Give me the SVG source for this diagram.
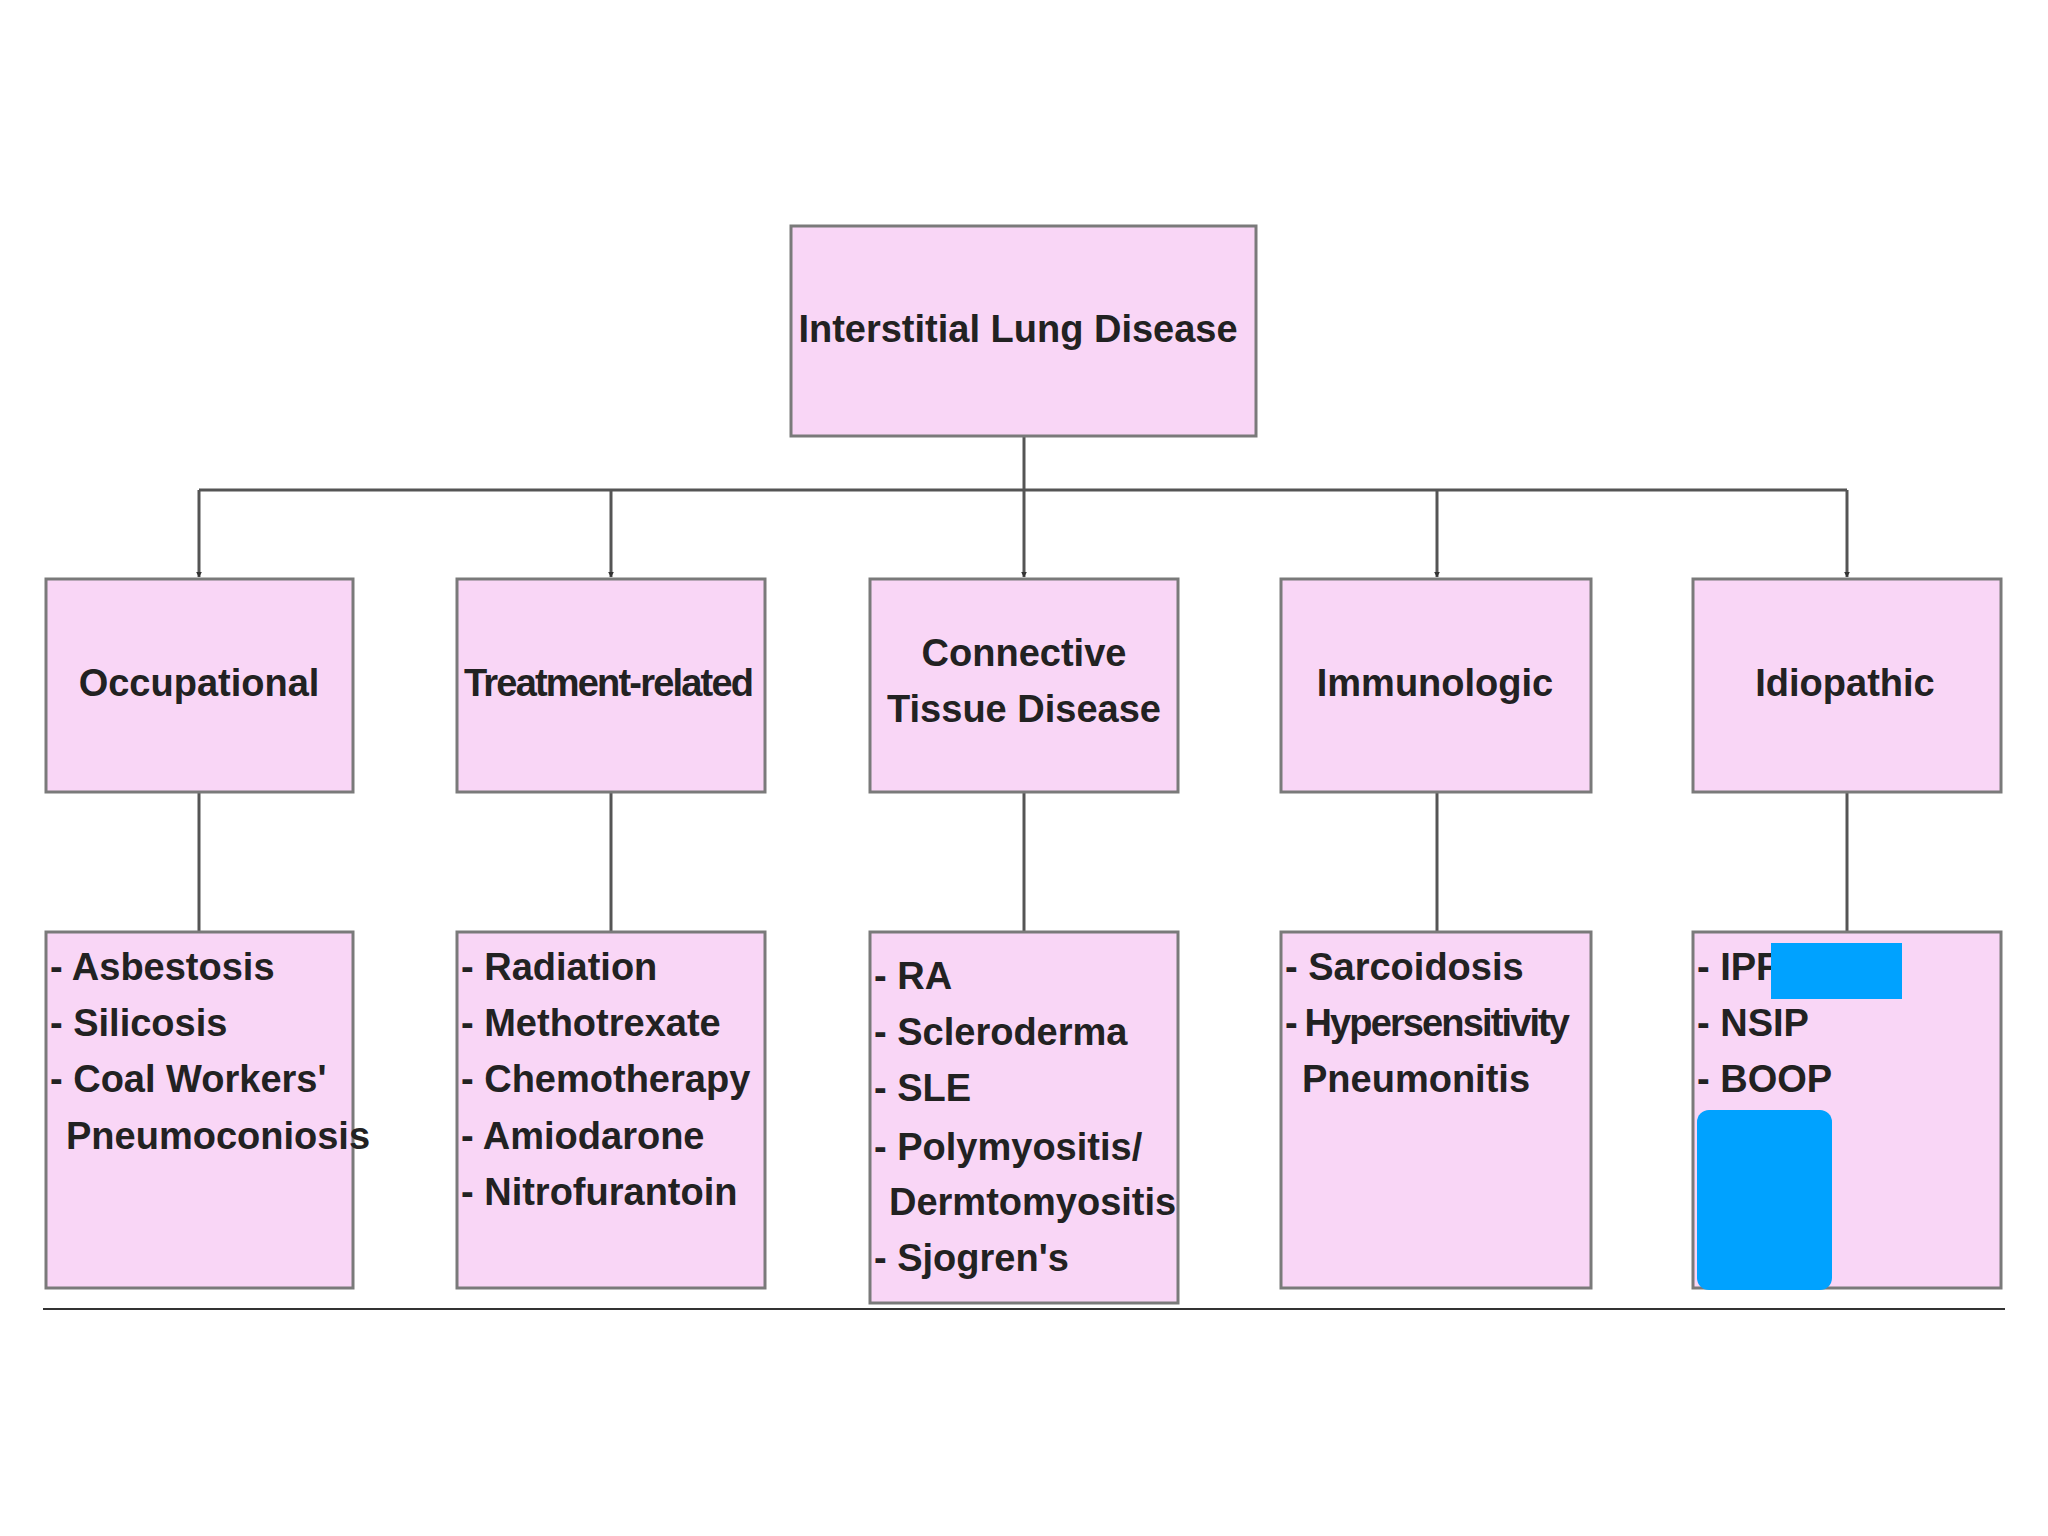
<svg xmlns="http://www.w3.org/2000/svg" width="2048" height="1536" viewBox="0 0 2048 1536">
<defs>
<marker id="ah" viewBox="0 0 10 10" refX="9" refY="5" markerWidth="6" markerHeight="8" orient="auto" markerUnits="userSpaceOnUse"><path d="M0,0 L10,5 L0,10 z" fill="#333"/></marker>
<style>
.box{fill:#f9d6f6;stroke:#7a7a7a;stroke-width:3}
.t{font-family:"Liberation Sans",Arial,sans-serif;font-weight:bold;font-size:38px;fill:#222}
.c{text-anchor:middle}
.ln{stroke:#555;stroke-width:3;fill:none}
</style>
</defs>
<rect width="2048" height="1536" fill="#fff"/>
<g id="connectors">
<line class="ln" x1="1024" y1="436" x2="1024" y2="490"/>
<line class="ln" x1="199" y1="490" x2="1847" y2="490"/>
<line class="ln" x1="199" y1="490" x2="199" y2="577" marker-end="url(#ah)"/>
<line class="ln" x1="611" y1="490" x2="611" y2="577" marker-end="url(#ah)"/>
<line class="ln" x1="1024" y1="490" x2="1024" y2="577" marker-end="url(#ah)"/>
<line class="ln" x1="1437" y1="490" x2="1437" y2="577" marker-end="url(#ah)"/>
<line class="ln" x1="1847" y1="490" x2="1847" y2="577" marker-end="url(#ah)"/>
<line class="ln" x1="199" y1="792" x2="199" y2="932"/>
<line class="ln" x1="611" y1="792" x2="611" y2="932"/>
<line class="ln" x1="1024" y1="792" x2="1024" y2="932"/>
<line class="ln" x1="1437" y1="792" x2="1437" y2="932"/>
<line class="ln" x1="1847" y1="792" x2="1847" y2="932"/>
</g>
<g id="root"><rect class="box" x="791" y="226" width="465" height="210"/><text class="t c" x="1018" y="342" font-size="36">Interstitial Lung Disease</text></g>
<g id="occ"><rect class="box" x="46" y="579" width="307" height="213"/><text class="t c" x="199" y="696">Occupational</text></g>
<g id="treat"><rect class="box" x="457" y="579" width="308" height="213"/><text class="t c" x="609" y="696" textLength="290">Treatment-related</text></g>
<g id="ctd"><rect class="box" x="870" y="579" width="308" height="213"/><text class="t c" x="1024" y="666">Connective</text><text class="t c" x="1024" y="722">Tissue Disease</text></g>
<g id="imm"><rect class="box" x="1281" y="579" width="310" height="213"/><text class="t c" x="1435" y="696">Immunologic</text></g>
<g id="idio"><rect class="box" x="1693" y="579" width="308" height="213"/><text class="t c" x="1845" y="696">Idiopathic</text></g>
<g id="occl"><rect class="box" x="46" y="932" width="307" height="356"/>
<text class="t" x="50" y="980">- Asbestosis</text><text class="t" x="50" y="1036">- Silicosis</text><text class="t" x="50" y="1092">- Coal Workers'</text><text class="t" x="66" y="1149">Pneumoconiosis</text></g>
<g id="treatl"><rect class="box" x="457" y="932" width="308" height="356"/>
<text class="t" x="461" y="980">- Radiation</text><text class="t" x="461" y="1036">- Methotrexate</text><text class="t" x="461" y="1092">- Chemotherapy</text><text class="t" x="461" y="1149">- Amiodarone</text><text class="t" x="461" y="1205">- Nitrofurantoin</text></g>
<g id="ctdl"><rect class="box" x="870" y="932" width="308" height="371"/>
<text class="t" x="874" y="989">- RA</text><text class="t" x="874" y="1045">- Scleroderma</text><text class="t" x="874" y="1101">- SLE</text><text class="t" x="874" y="1160">- Polymyositis/</text><text class="t" x="889" y="1215">Dermtomyositis</text><text class="t" x="874" y="1271">- Sjogren's</text></g>
<g id="imml"><rect class="box" x="1281" y="932" width="310" height="356"/>
<text class="t" x="1285" y="980">- Sarcoidosis</text><text class="t" x="1285" y="1036" textLength="285">- Hypersensitivity</text><text class="t" x="1302" y="1092">Pneumonitis</text></g>
<g id="idiol"><rect class="box" x="1693" y="932" width="308" height="356"/>
<text class="t" x="1697" y="980">- IPF</text><text class="t" x="1697" y="1036">- NSIP</text><text class="t" x="1697" y="1092">- BOOP</text>
<rect x="1771" y="943" width="131" height="56" fill="#00a2ff"/>
<rect x="1697" y="1110" width="135" height="180" rx="12" fill="#00a2ff"/></g>
<line x1="43" y1="1309" x2="2005" y2="1309" stroke="#333" stroke-width="2"/>
</svg>
